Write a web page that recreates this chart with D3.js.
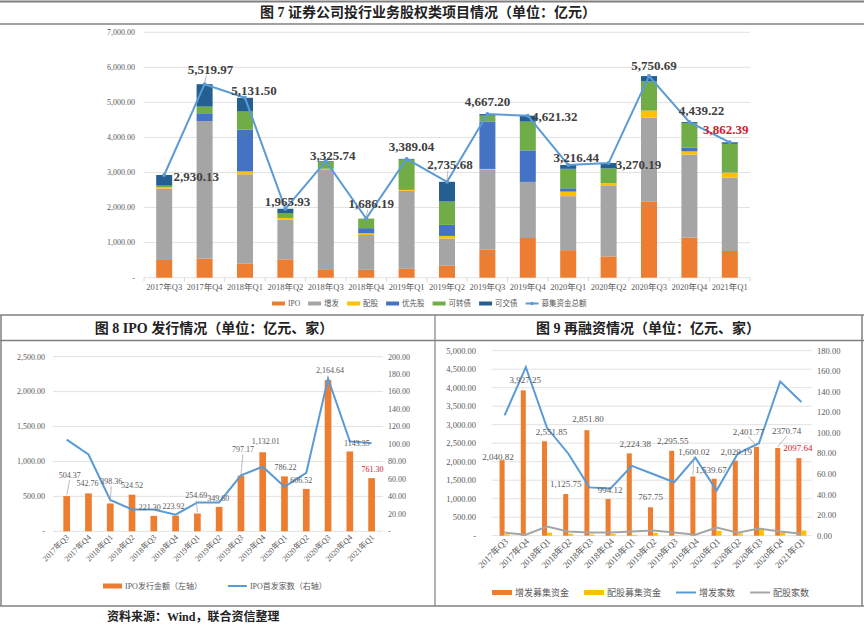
<!DOCTYPE html>
<html>
<head>
<meta charset="utf-8">
<script src="https://cdn.jsdelivr.net/npm/d3@7"></script>
<style>
  body { margin: 0; background: #fff; }
  svg { display: block; }
  text { font-family: "Liberation Serif", "Noto Sans CJK SC", serif; }
</style>
</head>
<body>
<svg id="chart"></svg>
<script>
// Quarters shared by all three charts
const quarters = ["2017年Q3", "2017年Q4", "2018年Q1", "2018年Q2", "2018年Q3", "2018年Q4",
  "2019年Q1", "2019年Q2", "2019年Q3", "2019年Q4", "2020年Q1", "2020年Q2",
  "2020年Q3", "2020年Q4", "2021年Q1"];

// Equity financing by type (亿元)
const ipoAmount = [504.37, 542.76, 398.36, 524.52, 221.30, 223.92, 254.69, 349.60, 797.17, 1132.01, 786.22, 606.52, 2164.64, 1143.35, 761.30];
const zengfaAmount = [2040.82, 3927.25, 2551.85, 1125.75, 2851.80, 994.12, 2224.38, 767.75, 2295.55, 1600.02, 1539.67, 2029.19, 2401.77, 2370.74, 2097.64];
const peiguAmount = [40, 0, 80, 55, 35, 50, 25, 74, 10, 0, 130, 60, 200, 90, 140];
const preferredAmount = [0, 220, 1190, 0, 0, 145, 0, 315, 1355, 900, 95, 0, 0, 110, 0];
const convertibleAmount = [40, 190, 520, 140, 200, 273, 865, 666, 165, 820, 555, 420, 830, 700, 820];
const exchangeableAmount = [305, 640, 391.29, 120.66, 17.64, 0, 19.97, 563.33, 44.48, 169.29, 110.55, 154.48, 154.28, 25.13, 43.45];
const totalAmount = [2930.13, 5519.97, 5131.50, 1965.93, 3325.74, 1686.19, 3389.04, 2735.68, 4667.20, 4621.32, 3216.44, 3270.19, 5750.69, 4439.22, 3862.39];

// Counts (家)
const ipoCount = [105, 88, 36, 25, 25, 19, 33, 33, 64, 74, 51, 67, 175, 103, 101];
const zengfaCount = [117, 164, 105, 80, 47, 46, 68, 60, 52, 76, 44, 80, 90, 150, 130];
const peiguCount = [3, 1, 9, 4, 3, 3, 4, 5, 3, 1, 8, 3, 7, 4, 2];

const equityKeys = ["IPO", "增发", "配股", "优先股", "可转债", "可交债"];
const equityColors = ["#ED7D31", "#A5A5A5", "#FFC000", "#4472C4", "#70AD47", "#255E91"];
const lineBlue = "#5B9BD5";
const labelRed = "#D0202A";

// label nudges (text centre relative to the point it describes)
const label7Dx = [32, 6, 9, 2, 7, 5, 5, 3, 0, 27, 8, 30, 5, 12, -4];
const label7Dy = [1, -15, -7, -7, -6, -15, -12, -17, -13, 1, -7, 1, -11, -12, -13];
const label8Dx = [3, -1, 1, 0, -4, -2, -1, -1, 2, 3, 1, -5, 2, 7, 1];
const label8Dy = [-21, -10, -22, -9, -9, -9, -18, -9, -26, -11, -9, -9, -10, -8, -9];
const label9Dx = [-4, 2, 7, 0, 1, 2, 6, 0, 1, 1, -3, 1, -8, 9, -1];
const label9Dy = [-3, -11, -9, -10, -11, -9, -10, -10, -10, -25, -9, -9, -15, -17, -10];

const width = 864, height = 626;
const svg = d3.select("#chart").attr("width", width).attr("height", height);
svg.append("rect").attr("width", width).attr("height", height).attr("fill", "#fff");

const fmt = d3.format(",.2f");
const dashFmt = v => (v === 0 ? "-" : fmt(v));
const grey = "#595959";
const gridColor = "#D9D9D9";
const idx = d3.range(quarters.length);

// ---------- frames ----------
const frame = svg.append("g").attr("stroke", "#808080").attr("fill", "none");
frame.append("line").attr("x1", 0).attr("x2", width).attr("y1", 1.5).attr("y2", 1.5).attr("stroke-width", 2);
frame.append("line").attr("x1", 0).attr("x2", width).attr("y1", 24).attr("y2", 24).attr("stroke-width", 1.5);
frame.append("line").attr("x1", 0).attr("x2", width).attr("y1", 315).attr("y2", 315).attr("stroke-width", 1.5);
frame.append("line").attr("x1", 0).attr("x2", width).attr("y1", 340.5).attr("y2", 340.5).attr("stroke-width", 1.5);
frame.append("line").attr("x1", 0).attr("x2", width).attr("y1", 606).attr("y2", 606).attr("stroke-width", 1.5);
frame.append("line").attr("x1", 1).attr("x2", 1).attr("y1", 315).attr("y2", 606).attr("stroke-width", 1.5);
frame.append("line").attr("x1", 862).attr("x2", 862).attr("y1", 315).attr("y2", 606).attr("stroke-width", 1.5);
frame.append("line").attr("x1", 435).attr("x2", 435).attr("y1", 315).attr("y2", 606).attr("stroke-width", 1.2);

function title(txt, x, y) {
  svg.append("text").attr("x", x).attr("y", y).attr("dy", "0.35em")
    .attr("text-anchor", "middle").attr("font-size", 14).attr("font-weight", "bold")
    .attr("fill", "#222").text(txt);
}
title("图 7   证券公司投行业务股权类项目情况（单位：亿元）", 428, 12.5);
title("图 8   IPO 发行情况（单位：亿元、家）", 214, 328);
title("图 9   再融资情况（单位：亿元、家）", 648, 328);

svg.append("text").attr("x", 107).attr("y", 617).attr("dy", "0.35em")
  .attr("font-size", 12).attr("font-weight", "bold").attr("fill", "#222")
  .text("资料来源：Wind，联合资信整理");

// legend helper: lays items left to right
function legend(items, x0, y, size, markW, markH, gap) {
  let x = x0;
  items.forEach(function (it) {
    if (it.type === "rect") {
      svg.append("rect").attr("x", x).attr("y", y - markH / 2).attr("width", markW).attr("height", markH).attr("fill", it.color);
    } else {
      svg.append("line").attr("x1", x).attr("x2", x + markW).attr("y1", y).attr("y2", y)
        .attr("stroke", it.color).attr("stroke-width", 2);
      if (it.marker) {
        svg.append("circle").attr("cx", x + markW / 2).attr("cy", y).attr("r", 1.8).attr("fill", it.color);
      }
    }
    const t = svg.append("text").attr("x", x + markW + 3).attr("y", y).attr("dy", "0.35em")
      .attr("font-size", size).attr("fill", grey).text(it.name);
    x += markW + 3 + t.node().getComputedTextLength() + gap;
  });
}

// ---------- Chart 7: stacked equity ----------
const x7 = d3.scaleBand().domain(quarters).range([144, 750]);
const y7 = d3.scaleLinear().domain([0, 7000]).range([277.7, 32.3]);
const bw7 = 16;
const g7 = svg.append("g");

g7.selectAll(".grid").data(y7.ticks(7)).enter().append("line")
  .attr("x1", 144).attr("x2", 750)
  .attr("y1", d => y7(d)).attr("y2", d => y7(d))
  .attr("stroke", gridColor).attr("stroke-width", 0.8);

g7.selectAll(".ylab").data(y7.ticks(7)).enter().append("text")
  .attr("x", 135).attr("y", d => y7(d)).attr("dy", "0.35em")
  .attr("text-anchor", "end").attr("font-size", 8).attr("fill", grey)
  .text(dashFmt);

// category ticks on the x axis
g7.selectAll(".xtick").data(d3.range(quarters.length + 1)).enter().append("line")
  .attr("x1", i => 144 + i * x7.step()).attr("x2", i => 144 + i * x7.step())
  .attr("y1", y7(0)).attr("y2", y7(0) + 4)
  .attr("stroke", gridColor);

g7.selectAll(".xlab").data(quarters).enter().append("text")
  .attr("x", d => x7(d) + x7.bandwidth() / 2).attr("y", 290)
  .attr("text-anchor", "middle").attr("font-size", 8.5).attr("fill", grey)
  .text(d => d);

const rows = quarters.map(function (q, i) {
  return {
    quarter: q, "IPO": ipoAmount[i], "增发": zengfaAmount[i], "配股": peiguAmount[i],
    "优先股": preferredAmount[i], "可转债": convertibleAmount[i], "可交债": exchangeableAmount[i]
  };
});
const stacked = d3.stack().keys(equityKeys)(rows);

g7.selectAll(".layer").data(stacked).enter().append("g")
  .attr("fill", (d, i) => equityColors[i])
  .selectAll("rect").data(d => d).enter().append("rect")
  .attr("x", d => x7(d.data.quarter) + x7.bandwidth() / 2 - bw7 / 2)
  .attr("y", d => y7(d[1]))
  .attr("width", bw7)
  .attr("height", d => y7(d[0]) - y7(d[1]));

const cx7 = i => x7(quarters[i]) + x7.bandwidth() / 2;
g7.append("path").datum(totalAmount)
  .attr("fill", "none").attr("stroke", lineBlue).attr("stroke-width", 2)
  .attr("d", d3.line().x((d, i) => cx7(i)).y(d => y7(d)));
g7.selectAll(".mk").data(totalAmount).enter().append("circle")
  .attr("cx", (d, i) => cx7(i)).attr("cy", d => y7(d)).attr("r", 2).attr("fill", lineBlue);

// leader lines for labels lifted far above their point
g7.selectAll(".lead").data(idx.filter(i => label7Dy[i] < -14)).enter().append("line")
  .attr("x1", i => cx7(i) + label7Dx[i] * 0.3).attr("x2", i => cx7(i))
  .attr("y1", i => y7(totalAmount[i]) + label7Dy[i] + 6).attr("y2", i => y7(totalAmount[i]) - 1)
  .attr("stroke", "#A0A0A0").attr("stroke-width", 0.7);

g7.selectAll(".vlab").data(totalAmount).enter().append("text")
  .attr("x", (d, i) => cx7(i) + label7Dx[i]).attr("y", (d, i) => y7(d) + label7Dy[i])
  .attr("dy", "0.35em").attr("text-anchor", "middle")
  .attr("font-size", 13).attr("font-weight", "bold")
  .attr("fill", (d, i) => (i === totalAmount.length - 1 ? labelRed : "#404040"))
  .text(d => fmt(d));

legend(equityKeys.map((k, i) => ({ name: k, color: equityColors[i], type: "rect" }))
  .concat([{ name: "募集资金总额", color: lineBlue, type: "line", marker: true }]),
  272, 303.5, 7.5, 13, 4, 8);

// ---------- Chart 8: IPO ----------
const x8 = d3.scaleBand().domain(quarters).range([55.8, 382.5]);
const y8L = d3.scaleLinear().domain([0, 2500]).range([531.3, 356.7]);
const y8R = d3.scaleLinear().domain([0, 200]).range([531.3, 356.7]);
const bw8 = 6.7;
const g8 = svg.append("g");
const cx8 = i => x8(quarters[i]) + x8.bandwidth() / 2;

g8.selectAll(".grid").data(d3.range(0, 2501, 500)).enter().append("line")
  .attr("x1", 53).attr("x2", 383)
  .attr("y1", d => y8L(d)).attr("y2", d => y8L(d))
  .attr("stroke", gridColor).attr("stroke-width", 0.8);
g8.selectAll(".ylabL").data(d3.range(0, 2501, 500)).enter().append("text")
  .attr("x", 45).attr("y", d => y8L(d)).attr("dy", "0.35em")
  .attr("text-anchor", "end").attr("font-size", 8).attr("fill", grey).text(dashFmt);
g8.selectAll(".ylabR").data(d3.range(0, 201, 20)).enter().append("text")
  .attr("x", 388).attr("y", d => y8R(d)).attr("dy", "0.35em")
  .attr("font-size", 8).attr("fill", grey).text(dashFmt);

g8.selectAll(".bar").data(ipoAmount).enter().append("rect")
  .attr("x", (d, i) => cx8(i) - bw8 / 2).attr("y", d => y8L(d))
  .attr("width", bw8).attr("height", d => y8L(0) - y8L(d))
  .attr("fill", equityColors[0]);

g8.append("path").datum(ipoCount)
  .attr("fill", "none").attr("stroke", lineBlue).attr("stroke-width", 2)
  .attr("d", d3.line().x((d, i) => cx8(i)).y(d => y8R(d)));

g8.selectAll(".lead").data(idx.filter(i => label8Dy[i] < -14)).enter().append("line")
  .attr("x1", i => cx8(i) + label8Dx[i]).attr("x2", i => cx8(i))
  .attr("y1", i => y8L(ipoAmount[i]) + label8Dy[i] + 5).attr("y2", i => y8L(ipoAmount[i]) - 1)
  .attr("stroke", "#A0A0A0").attr("stroke-width", 0.7);

g8.selectAll(".vlab").data(ipoAmount).enter().append("text")
  .attr("x", (d, i) => cx8(i) + label8Dx[i]).attr("y", (d, i) => y8L(d) + label8Dy[i])
  .attr("dy", "0.35em").attr("text-anchor", "middle").attr("font-size", 8)
  .attr("fill", (d, i) => (i === ipoAmount.length - 1 ? labelRed : grey))
  .text((d, i) => (i === 13 ? d3.format(".2f")(d) : fmt(d)));

g8.selectAll(".xlab").data(quarters).enter().append("text")
  .attr("transform", (d, i) => "translate(" + (cx8(i) + 3) + ",538) rotate(-45)")
  .attr("text-anchor", "end").attr("font-size", 8).attr("fill", grey)
  .text(d => d);

legend([
  { name: "IPO发行金额（左轴）", color: equityColors[0], type: "rect" },
  { name: "IPO首发家数（右轴）", color: lineBlue, type: "line" }
], 103, 586, 8, 19, 5, 26);

// ---------- Chart 9: refinancing ----------
const x9 = d3.scaleBand().domain(quarters).range([494, 812]);
const y9L = d3.scaleLinear().domain([0, 5000]).range([535.7, 350.7]);
const y9R = d3.scaleLinear().domain([0, 180]).range([535.7, 350.7]);
const bw9 = 5;
const g9 = svg.append("g");
const cx9 = i => x9(quarters[i]) + x9.bandwidth() / 2;

g9.selectAll(".grid").data(d3.range(0, 5001, 500)).enter().append("line")
  .attr("x1", 491.7).attr("x2", 811.7)
  .attr("y1", d => y9L(d)).attr("y2", d => y9L(d))
  .attr("stroke", gridColor).attr("stroke-width", 0.8);
g9.selectAll(".ylabL").data(d3.range(0, 5001, 500)).enter().append("text")
  .attr("x", 476).attr("y", d => y9L(d)).attr("dy", "0.35em")
  .attr("text-anchor", "end").attr("font-size", 8.5).attr("fill", grey).text(dashFmt);
g9.selectAll(".ylabR").data(d3.range(0, 181, 20)).enter().append("text")
  .attr("x", 817).attr("y", d => y9R(d)).attr("dy", "0.35em")
  .attr("font-size", 8.5).attr("fill", grey).text(d => fmt(d));

g9.selectAll(".barZ").data(zengfaAmount).enter().append("rect")
  .attr("x", (d, i) => cx9(i) - bw9).attr("y", d => y9L(d))
  .attr("width", bw9).attr("height", d => y9L(0) - y9L(d))
  .attr("fill", equityColors[0]);
g9.selectAll(".barP").data(peiguAmount).enter().append("rect")
  .attr("x", (d, i) => cx9(i)).attr("y", d => y9L(d))
  .attr("width", bw9).attr("height", d => y9L(0) - y9L(d))
  .attr("fill", equityColors[2]);

g9.append("path").datum(peiguCount)
  .attr("fill", "none").attr("stroke", "#A5A5A5").attr("stroke-width", 2)
  .attr("d", d3.line().x((d, i) => cx9(i)).y(d => y9R(d)));
g9.append("path").datum(zengfaCount)
  .attr("fill", "none").attr("stroke", lineBlue).attr("stroke-width", 2)
  .attr("d", d3.line().x((d, i) => cx9(i)).y(d => y9R(d)));

g9.selectAll(".lead").data(idx.filter(i => label9Dy[i] < -14)).enter().append("line")
  .attr("x1", i => cx9(i) - bw9 / 2 + label9Dx[i]).attr("x2", i => cx9(i) - bw9 / 2)
  .attr("y1", i => y9L(zengfaAmount[i]) + label9Dy[i] + 5).attr("y2", i => y9L(zengfaAmount[i]) - 1)
  .attr("stroke", "#A0A0A0").attr("stroke-width", 0.7);

g9.selectAll(".vlab").data(zengfaAmount).enter().append("text")
  .attr("x", (d, i) => cx9(i) - bw9 / 2 + label9Dx[i]).attr("y", (d, i) => y9L(d) + label9Dy[i])
  .attr("dy", "0.35em").attr("text-anchor", "middle").attr("font-size", 9)
  .attr("fill", (d, i) => (i === zengfaAmount.length - 1 ? labelRed : grey))
  .text((d, i) => (i >= 13 ? d3.format(".2f")(d) : fmt(d)));

g9.selectAll(".xlab").data(quarters).enter().append("text")
  .attr("transform", (d, i) => "translate(" + (cx9(i) + 4) + ",542) rotate(-45)")
  .attr("text-anchor", "end").attr("font-size", 9).attr("fill", grey)
  .text(d => d);

legend([
  { name: "增发募集资金", color: equityColors[0], type: "rect" },
  { name: "配股募集资金", color: equityColors[2], type: "rect" },
  { name: "增发家数", color: lineBlue, type: "line" },
  { name: "配股家数", color: "#A5A5A5", type: "line" }
], 492, 592.5, 9, 20, 5, 15);
</script>
</body>
</html>
